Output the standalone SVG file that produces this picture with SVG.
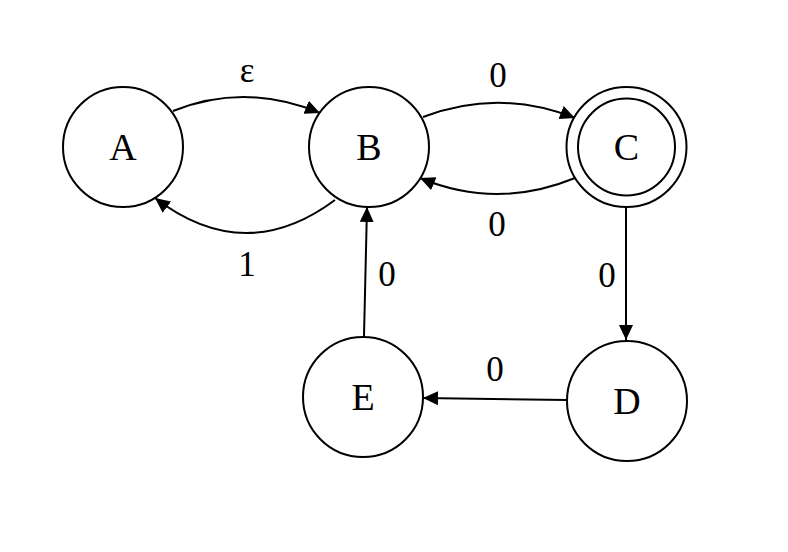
<svg xmlns="http://www.w3.org/2000/svg" width="788" height="552" viewBox="0 0 788 552">
<style>
.node circle{fill:#fff;stroke:#000;stroke-width:2}
.node text{font-family:"Liberation Serif",serif;font-size:38px;text-anchor:middle;fill:#000}
.edge{fill:none;stroke:#000;stroke-width:2}
.lbl{font-family:"Liberation Serif",serif;font-size:35px;text-anchor:middle;fill:#000}
</style>
<defs>
<marker id="ah" markerUnits="userSpaceOnUse" markerWidth="16" markerHeight="14" refX="15" refY="7" orient="auto">
<path d="M0,0 L15,7 L0,14 z" fill="#000"/>
</marker>
</defs>
<rect width="788" height="552" fill="#fff"/>
<g id="connectors">
<path class="edge" d="M173,111 Q245,82 320,113" marker-end="url(#ah)"/>
<path class="edge" d="M335,200 Q245,267 155,198" marker-end="url(#ah)"/>
<path class="edge" d="M423,117 Q499,88 575,118" marker-end="url(#ah)"/>
<path class="edge" d="M575,178 Q497,210 420,178" marker-end="url(#ah)"/>
<path class="edge" d="M626,207 L626,340" marker-end="url(#ah)"/>
<path class="edge" d="M364,336 L367,207" marker-end="url(#ah)"/>
<path class="edge" d="M567,400 L423,398" marker-end="url(#ah)"/>
<text class="lbl" x="247" y="82">ε</text>
<text class="lbl" x="247" y="276">1</text>
<text class="lbl" x="498" y="87">0</text>
<text class="lbl" x="497" y="236">0</text>
<text class="lbl" x="607" y="287">0</text>
<text class="lbl" x="387" y="286">0</text>
<text class="lbl" x="495" y="381">0</text>
</g>
<g id="node-A" class="node"><circle cx="123" cy="147" r="60"/><text x="123" y="160">A</text></g>
<g id="node-B" class="node"><circle cx="369" cy="147" r="60"/><text x="369" y="160">B</text></g>
<g id="node-C" class="node"><circle cx="626.5" cy="147" r="60"/><circle cx="626.5" cy="147" r="48.5"/><text x="626.5" y="160">C</text></g>
<g id="node-D" class="node"><circle cx="627" cy="401" r="60"/><text x="627" y="414">D</text></g>
<g id="node-E" class="node"><circle cx="363" cy="397" r="60"/><text x="363" y="410">E</text></g>
</svg>
